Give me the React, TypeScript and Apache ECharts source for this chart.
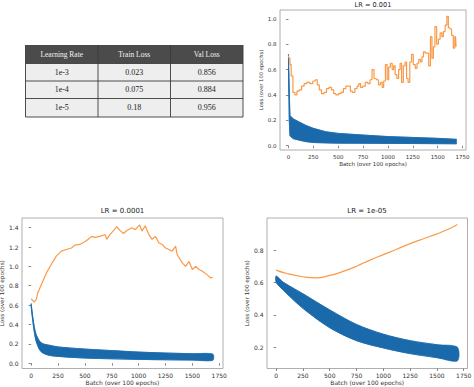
import React, { useEffect, useRef } from "react";
import * as echarts from "echarts";

const FONT = "DejaVu Sans";
const SERIF = "Liberation Serif";
const BLUE = "#1a6aab";
const ORANGE = "#fa9a48";

// Table
const tableHeaders = ["Learning Rate", "Train Loss", "Val Loss"];
const learningRates = ["1e-3", "1e-4", "1e-5"];
const trainLosses = ["0.023", "0.075", "0.18"];
const valLosses = ["0.856", "0.884", "0.956"];

const xTicks = [0, 250, 500, 750, 1000, 1250, 1500, 1750];

// LR = 0.001
const lr1Title = "LR = 0.001";
const lr1Ticks = [0.0, 0.2, 0.4, 0.6, 0.8, 1.0];
const lr1BandX = [0, 8, 15, 25, 50, 100, 175, 250, 375, 500, 750, 1000, 1250, 1500, 1690];
const lr1TrainUpper = [0.72, 0.42, 0.24, 0.23, 0.21, 0.19, 0.16, 0.137, 0.11, 0.097, 0.084, 0.072, 0.065, 0.058, 0.05];
const lr1TrainLower = [0.62, 0.2, 0.08, 0.07, 0.055, 0.045, 0.032, 0.025, 0.022, 0.02, 0.019, 0.018, 0.017, 0.016, 0.015];
const lr1ValX = [0, 10, 20, 35, 55, 75, 95, 120, 145, 170, 200, 230, 260, 280, 300, 320, 345, 370, 395, 420, 445, 465, 490, 515, 540, 565, 590, 615, 630, 655, 680, 700, 715, 735, 760, 785, 810, 830, 850, 870, 895, 915, 935, 950, 965, 985, 1000, 1015, 1035, 1050, 1065, 1080, 1100, 1115, 1130, 1145, 1165, 1180, 1195, 1210, 1230, 1245, 1265, 1285, 1300, 1320, 1335, 1350, 1365, 1385, 1400, 1420, 1435, 1450, 1465, 1480, 1500, 1515, 1535, 1550, 1565, 1585, 1600, 1615, 1630, 1650, 1665, 1680, 1690];
const lr1ValY = [0.71, 0.69, 0.64, 0.55, 0.42, 0.40, 0.43, 0.44, 0.47, 0.49, 0.50, 0.49, 0.51, 0.52, 0.48, 0.44, 0.41, 0.42, 0.45, 0.46, 0.44, 0.41, 0.40, 0.41, 0.42, 0.45, 0.47, 0.47, 0.43, 0.42, 0.45, 0.47, 0.49, 0.46, 0.47, 0.50, 0.49, 0.52, 0.60, 0.53, 0.52, 0.48, 0.50, 0.46, 0.51, 0.64, 0.52, 0.62, 0.65, 0.60, 0.63, 0.56, 0.53, 0.60, 0.65, 0.50, 0.63, 0.66, 0.53, 0.50, 0.66, 0.72, 0.64, 0.61, 0.65, 0.68, 0.66, 0.70, 0.74, 0.73, 0.73, 0.63, 0.86, 0.69, 0.78, 0.94, 0.80, 0.84, 0.89, 0.86, 0.90, 0.95, 1.02, 0.93, 0.92, 0.87, 0.77, 0.86, 0.78];

// LR = 0.0001
const lr2Title = "LR = 0.0001";
const lr2Ticks = [0.0, 0.2, 0.4, 0.6, 0.8, 1.0, 1.2, 1.4];
const lr2BandX = [0, 16, 31, 47, 78, 109, 172, 250, 500, 750, 1000, 1250, 1500, 1690];
const lr2TrainUpper = [0.615, 0.47, 0.365, 0.295, 0.228, 0.2, 0.185, 0.168, 0.146, 0.13, 0.115, 0.105, 0.098, 0.094];
const lr2TrainLower = [0.59, 0.43, 0.31, 0.225, 0.14, 0.105, 0.08, 0.07, 0.053, 0.045, 0.039, 0.035, 0.032, 0.029];
const lr2ValX = [0, 16, 31, 47, 62, 94, 141, 187, 234, 281, 328, 375, 406, 453, 500, 531, 562, 594, 640, 687, 703, 734, 766, 797, 828, 859, 891, 937, 969, 1009, 1031, 1062, 1094, 1125, 1156, 1187, 1219, 1250, 1281, 1312, 1344, 1359, 1406, 1437, 1469, 1500, 1531, 1562, 1594, 1641, 1672, 1690];
const lr2ValY = [0.667, 0.646, 0.633, 0.657, 0.726, 0.81, 0.93, 1.02, 1.106, 1.158, 1.175, 1.19, 1.22, 1.227, 1.255, 1.28, 1.31, 1.30, 1.31, 1.33, 1.28, 1.33, 1.37, 1.41, 1.37, 1.34, 1.37, 1.40, 1.38, 1.43, 1.365, 1.42, 1.33, 1.28, 1.31, 1.245, 1.227, 1.19, 1.175, 1.158, 1.21, 1.12, 1.037, 1.0, 1.05, 0.968, 1.0, 0.968, 0.95, 0.91, 0.88, 0.888];

// LR = 1e-05
const lr3Title = "LR = 1e-05";
const lr3Ticks = [0.2, 0.4, 0.6, 0.8];
const lr3BandX = [0, 70, 250, 500, 750, 1000, 1250, 1500, 1690];
const lr3TrainUpper = [0.64, 0.6, 0.53, 0.43, 0.34, 0.28, 0.24, 0.215, 0.2];
const lr3TrainLower = [0.6, 0.55, 0.44, 0.32, 0.24, 0.195, 0.16, 0.135, 0.115];
const lr3ValX = [0, 100, 250, 375, 500, 625, 750, 875, 1000, 1125, 1250, 1375, 1500, 1625, 1690];
const lr3ValY = [0.676, 0.655, 0.635, 0.628, 0.643, 0.668, 0.70, 0.738, 0.772, 0.805, 0.84, 0.87, 0.90, 0.935, 0.958];

const zip = (xs: number[], ys: number[]) => xs.map((x, i) => [x, ys[i]]);

export default function App() {
  const ref = useRef<HTMLDivElement>(null);
  useEffect(() => {
    if (!ref.current) return;
    const chart = echarts.init(ref.current, null, { renderer: "svg" });

    const grids = [
      { left: 280, top: 10, width: 186, height: 140 },
      { left: 22, top: 218, width: 201, height: 150.5 },
      { left: 267, top: 218, width: 200.5, height: 150.5 },
    ].map((g) => ({
      ...g,
      show: true,
      borderColor: "#9a9a9a",
      borderWidth: 0.8,
      backgroundColor: "transparent",
      containLabel: false,
      outerBoundsMode: "none",
    }));

    const yRanges = [
      { min: -0.034, max: 1.07, ticks: lr1Ticks },
      { min: -0.055, max: 1.5, ticks: lr2Ticks },
      { min: 0.068, max: 0.998, ticks: lr3Ticks },
    ];
    const fs = [5.5, 6, 6];

    const xAxes = [0, 1, 2].map((i) => ({
      type: "value",
      gridIndex: i,
      min: -85,
      max: 1785,
      axisLine: { show: false },
      splitLine: { show: false },
      axisTick: { show: true, customValues: xTicks, length: 2.5, lineStyle: { color: "#555", width: 0.7 } },
      axisLabel: {
        customValues: xTicks,
        fontSize: fs[i],
        color: "#333",
        margin: 3.5,
        fontFamily: FONT,
        formatter: (v: number) => String(v),
      },
      name: "Batch (over 100 epochs)",
      nameLocation: "middle",
      nameGap: 11,
      nameTextStyle: { fontSize: fs[i], color: "#333", fontFamily: FONT },
    }));

    const yAxes = [0, 1, 2].map((i) => ({
      type: "value",
      gridIndex: i,
      min: yRanges[i].min,
      max: yRanges[i].max,
      axisLine: { show: false },
      splitLine: { show: false },
      axisTick: { show: true, customValues: yRanges[i].ticks, length: 2.5, lineStyle: { color: "#555", width: 0.7 } },
      axisLabel: {
        customValues: yRanges[i].ticks,
        fontSize: fs[i],
        color: "#333",
        margin: 3.5,
        fontFamily: FONT,
        formatter: (v: number) => v.toFixed(1),
      },
      name: "Loss (over 100 epochs)",
      nameLocation: "middle",
      nameGap: 15,
      nameTextStyle: { fontSize: fs[i] - 0.3, color: "#333", fontFamily: FONT },
    }));

    const bands = [
      { x: lr1BandX, up: lr1TrainUpper, lo: lr1TrainLower, smooth: 0 },
      { x: lr2BandX, up: lr2TrainUpper, lo: lr2TrainLower, smooth: 0.3 },
      { x: lr3BandX, up: lr3TrainUpper, lo: lr3TrainLower, smooth: 0.3 },
    ];
    const vals = [
      { x: lr1ValX, y: lr1ValY, step: "middle", smooth: false },
      { x: lr2ValX, y: lr2ValY, step: false, smooth: false },
      { x: lr3ValX, y: lr3ValY, step: false, smooth: true },
    ];

    const series: any[] = [];
    bands.forEach((b, i) => {
      series.push({
        type: "custom",
        coordinateSystem: "cartesian2d",
        xAxisIndex: i,
        yAxisIndex: i,
        data: [[b.x[0], b.up[0]]],
        silent: true,
        renderItem: (_params: any, api: any) => {
          const upPts = b.x.map((x, k) => api.coord([x, b.up[k]]));
          const loPts = b.x.map((x, k) => api.coord([x, b.lo[k]])).reverse();
          return {
            type: "group",
            children: [
              {
                type: "polyline",
                shape: { points: upPts, smooth: b.smooth },
                style: { stroke: BLUE, lineWidth: 0.8, fill: "none" },
              },
              {
                type: "polyline",
                shape: { points: loPts, smooth: b.smooth },
                style: { stroke: BLUE, lineWidth: 0.8, fill: "none" },
              },
              {
                type: "polygon",
                shape: { points: upPts.concat(loPts), smooth: b.smooth },
                style: { fill: BLUE, stroke: BLUE, lineWidth: 0.6 },
              },
            ],
          };
        },
      });
    });
    vals.forEach((v, i) => {
      series.push({
        type: "line",
        xAxisIndex: i,
        yAxisIndex: i,
        data: zip(v.x, v.y),
        showSymbol: false,
        step: v.step,
        smooth: v.smooth,
        lineStyle: { color: ORANGE, width: 1.2 },
        silent: true,
        z: 5,
      });
    });

    // table graphic
    const colX = [25.5, 98, 170.5, 243];
    const rowY = [45, 63.5, 81, 98.5, 117];
    const graphics: any[] = [];
    graphics.push({
      type: "rect",
      shape: { x: colX[0], y: rowY[0], width: colX[3] - colX[0], height: rowY[1] - rowY[0] },
      style: { fill: "#4b4b4b" },
    });
    graphics.push({
      type: "rect",
      shape: { x: colX[0], y: rowY[1], width: colX[3] - colX[0], height: rowY[4] - rowY[1] },
      style: { fill: "#eeeeee" },
    });
    for (let r = 1; r < rowY.length; r++) {
      graphics.push({
        type: "line",
        shape: { x1: colX[0], y1: rowY[r], x2: colX[3], y2: rowY[r] },
        style: { stroke: "#3a3a3a", lineWidth: 0.9 },
      });
    }
    for (let c = 0; c < colX.length; c++) {
      graphics.push({
        type: "line",
        shape: { x1: colX[c], y1: rowY[0], x2: colX[c], y2: rowY[4] },
        style: { stroke: "#3a3a3a", lineWidth: 0.9 },
      });
    }
    const rows = [tableHeaders, ...learningRates.map((lr, i) => [lr, trainLosses[i], valLosses[i]])];
    rows.forEach((row, r) => {
      row.forEach((txt, c) => {
        graphics.push({
          type: "text",
          x: (colX[c] + colX[c + 1]) / 2,
          y: (rowY[r] + rowY[r + 1]) / 2,
          style: {
            text: txt,
            fill: r === 0 ? "#f4f4f4" : "#1a1a1a",
            font: `${r === 0 ? 7.5 : 8}px "${SERIF}"`,
            align: "center",
            verticalAlign: "middle",
          },
        });
      });
    });
    const titles = [
      { t: lr1Title, x: 373, y: 5, s: 6.6 },
      { t: lr2Title, x: 122.5, y: 211, s: 7 },
      { t: lr3Title, x: 367, y: 211, s: 7 },
    ];
    titles.forEach((t) => {
      graphics.push({
        type: "text",
        x: t.x,
        y: t.y,
        style: {
          text: t.t,
          fill: "#222",
          font: `${t.s}px "${FONT}"`,
          align: "center",
          verticalAlign: "middle",
        },
      });
    });

    chart.setOption({
      animation: false,
      backgroundColor: "#ffffff",
      grid: grids,
      xAxis: xAxes,
      yAxis: yAxes,
      series,
      graphic: graphics,
    } as any);

    return () => chart.dispose();
  }, []);

  return (
    <div
      ref={ref}
      style={{ position: "fixed", left: 0, top: 0, width: 474, height: 387, background: "#fff" }}
    />
  );
}
